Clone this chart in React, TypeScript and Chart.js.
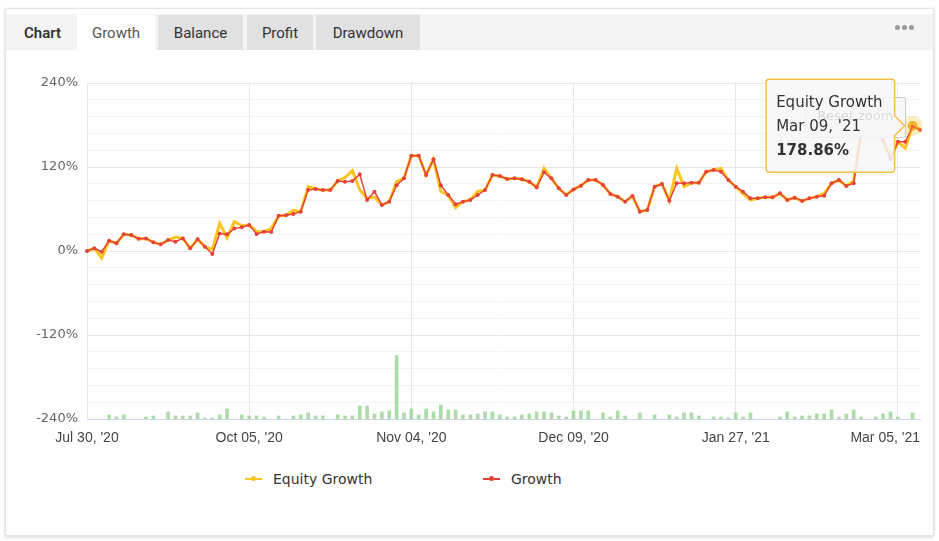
import React, { useEffect, useRef } from "react";
import { Chart, registerables } from "chart.js";

Chart.register(...registerables);

// ---------- data ----------
const growth: number[] = [
  0, 3.8, -1, 14.7, 11, 23.8, 22.9, 17.6, 18, 12.4,
  9.5, 15.7, 13.3, 18, 3.8, 16.7, 6.2, -4.3, 25, 23.8,
  32, 33.8, 37, 24.3, 27.6, 27.1, 50.5, 51, 53, 56.2,
  87, 88.6, 87, 87, 100, 99, 100, 109.5, 72.9, 84.8,
  65.7, 70.5, 94, 103.8, 136, 136, 108.6, 131, 94, 80,
  66.7, 70.5, 72.9, 80, 87, 108.6, 107, 103, 104, 102.4,
  99, 91, 112.4, 103.8, 89.5, 80, 88, 93.3, 101.4, 101.4,
  94.3, 81.4, 77.6, 70.5, 78.6, 56.2, 58.6, 91.9, 95.7, 71.9,
  96.7, 96.7, 97.6, 97.6, 113.3, 115.7, 113.3, 101.4, 91.9, 84.8,
  75.2, 75.2, 76.7, 76.7, 82.4, 72.9, 76.2, 71.4, 75.2, 77.6,
  79, 96.7, 101.4, 92.9, 96.7, 168, 182, 176, 158, 131,
  156, 156, 178, 173,
];

const equity: number[] = [
  0, 3.8, -10, 14.7, 11, 23.8, 22.9, 17.6, 18, 12.4,
  9.5, 15.7, 20, 18, 3.8, 16.7, 6.2, 2, 39.5, 19,
  42, 36, 37, 28, 27.6, 32, 50.5, 51, 58, 56.2,
  92, 88.6, 87, 87, 100, 105, 114.7, 87.6, 75, 77,
  65.7, 70.5, 99, 103.8, 136, 136, 108.6, 131, 85, 80,
  62, 70.5, 72.9, 85, 87, 108.6, 107, 103, 104, 102.4,
  99, 91, 118, 103.8, 89.5, 80, 88, 93.3, 101.4, 101.4,
  94.3, 81.4, 77.6, 70.5, 78.6, 56.2, 58.6, 91.9, 95.7, 71.9,
  118, 92, 97.6, 97.6, 113.3, 115.7, 118, 101.4, 91.9, 82,
  73, 75.2, 76.7, 76.7, 82.4, 72.9, 76.2, 71.4, 75.2, 77.6,
  82.4, 96.7, 101.4, 92.9, 100, 170, 184, 177, 159, 132,
  156, 147, 178.86, 174,
];

const volume: (number | null)[] = [
  null, null, null, 1.2, 0.6, 1.2, null, null, 0.6, 0.9,
  null, 2.1, 0.9, 0.9, 0.9, 1.8, 0.3, 0.3, 1.2, 3,
  null, 1.2, 0.9, 0.9, 0.6, null, 0.9, null, 0.9, 1.2,
  1.8, 0.9, 0.9, null, 1.2, 0.9, 0.9, 3.9, 3.9, 1.5,
  2.1, 2.4, 18.9, 1.8, 3, 1.2, 3, 2.1, 4.2, 2.7,
  2.7, 1.2, 1.2, 1.5, 2.1, 2.1, 1.2, 0.6, 0.6, 1.2,
  1.5, 2.1, 2.1, 1.8, 0.9, 0.6, 2.4, 2.4, 2.4, null,
  1.8, 0.6, 2.4, 0.9, null, 1.8, null, 1.2, null, 1.2,
  0.6, 1.8, 1.8, 0.9, null, 0.6, 0.6, 0.3, 1.8, 0.6,
  1.8, null, null, null, 0.6, 2.1, 0.6, 0.9, 0.9, 1.5,
  1.5, 2.7, 0.6, 1.5, 2.7, 0.6, null, 0.6, 1.5, 2.1,
  0.6, null, 1.8, null,
];

const tickIndex: number[] = [0, 22, 44, 66, 88, 110];
const tickLabels: string[] = ["Jul 30, '20", "Oct 05, '20", "Nov 04, '20", "Dec 09, '20", "Jan 27, '21", "Mar 05, '21"];
const hoverIndex = 112;
const hoverDate = "Mar 09, '21";

const seriesNames: string[] = ["Equity Growth", "Growth"];
const tabNames: string[] = ["Chart", "Growth", "Balance", "Profit", "Drawdown"];

const Y_MIN = -240;
const Y_MAX = 240;
const Y_STEP = 24;
const Y_LABEL_STEP = 120;

const YELLOW = "#fcc420";
const RED = "#e5433a";
const GREEN = "rgba(140, 208, 135, 0.72)";
const HC_FONT = '"DejaVu Sans", Verdana, sans-serif';

const categories: string[] = growth.map((_, i) => {
  const k = tickIndex.indexOf(i);
  if (k >= 0) return tickLabels[k];
  if (i === hoverIndex) return hoverDate;
  return "";
});

const overlayPlugin = {
  id: "overlay",
  beforeDraw(chart: any) {
    // keep x labels inside the plot's right edge (justify overflowing labels)
    const s = chart.scales.x;
    if (!s || !s.getLabelItems) return;
    const ctx = chart.ctx as CanvasRenderingContext2D;
    const items = s.getLabelItems();
    const right = chart.chartArea.right;
    ctx.save();
    for (const it of items) {
      if (!it.label) continue;
      ctx.font = it.font.string;
      const w = ctx.measureText(String(it.label)).width;
      const x = it.options.translation[0];
      if (x + w / 2 > right) {
        it.options.translation = [right, it.options.translation[1]];
        it.options.textAlign = "right";
      }
    }
    ctx.restore();
  },
  afterDatasetsDraw(chart: any) {
    const ctx = chart.ctx as CanvasRenderingContext2D;
    const pt = chart.getDatasetMeta(0).data[hoverIndex];
    ctx.save();
    if (pt) {
      ctx.fillStyle = "rgba(252, 196, 32, 0.3)";
      ctx.beginPath();
      ctx.arc(pt.x, pt.y, 10, 0, Math.PI * 2);
      ctx.fill();
    }
    const a = chart.chartArea;
    const w = 100;
    const h = 40;
    const x = Math.round(a.right - 15 - w) + 0.5;
    const y = Math.round(a.top + 14) + 0.5;
    ctx.beginPath();
    if ((ctx as any).roundRect) (ctx as any).roundRect(x, y, w, h, 2);
    else ctx.rect(x, y, w, h);
    ctx.fillStyle = "#f7f7f7";
    ctx.fill();
    ctx.strokeStyle = "#cccccc";
    ctx.lineWidth = 1;
    ctx.stroke();
    ctx.fillStyle = "#333333";
    ctx.font = `13px ${HC_FONT}`;
    ctx.textAlign = "center";
    ctx.textBaseline = "middle";
    ctx.fillText("Reset zoom", x + w / 2, y + h / 2 - 1);
    ctx.restore();
  },
};

function LegendItem({ color, label, left }: { color: string; label: string; left: number }) {
  return (
    <div style={{ position: "absolute", left, top: 470, height: 18, display: "flex", alignItems: "center" }}>
      <div style={{ position: "relative", width: 17, height: 2, background: color }}>
        <div
          style={{
            position: "absolute",
            left: 6,
            top: -2,
            width: 5,
            height: 5,
            borderRadius: "50%",
            background: color,
          }}
        />
      </div>
      <span
        style={{
          marginLeft: 11,
          fontFamily: HC_FONT,
          fontSize: 14,
          color: "#333",
          lineHeight: "18px",
          whiteSpace: "nowrap",
        }}
      >
        {label}
      </span>
    </div>
  );
}

export default function App() {
  const ref = useRef<HTMLCanvasElement | null>(null);

  useEffect(() => {
    let chart: Chart | null = null;
    let cancelled = false;

    const build = () => {
      if (cancelled || !ref.current) return;
      const tickFontY = { family: HC_FONT, size: 13 };
      const tickFontX = { family: '"Liberation Sans", Arial, sans-serif', size: 14 };
      chart = new Chart(ref.current, {
        type: "line",
        data: {
          labels: categories,
          datasets: [
            {
              label: seriesNames[0],
              data: equity,
              borderColor: YELLOW,
              backgroundColor: YELLOW,
              borderWidth: 3,
              pointRadius: 0,
              pointHoverRadius: 4,
              pointHoverBackgroundColor: YELLOW,
              pointHoverBorderColor: "#e49b2c",
              pointHoverBorderWidth: 1.5,
              tension: 0,
              order: 1,
              yAxisID: "y",
            },
            {
              label: seriesNames[1],
              data: growth,
              borderColor: RED,
              backgroundColor: RED,
              borderWidth: 1.5,
              pointRadius: 2,
              pointBackgroundColor: RED,
              pointBorderWidth: 0,
              pointHoverRadius: 2,
              tension: 0,
              order: 0,
              yAxisID: "y",
            },
            {
              type: "bar",
              label: "Volume",
              data: volume,
              backgroundColor: GREEN,
              borderWidth: 0,
              barThickness: 3,
              order: 2,
              yAxisID: "y1",
            } as any,
          ],
        },
        options: {
          responsive: false,
          animation: false,
          events: [],
          layout: { padding: { left: 0, right: 19, top: 32, bottom: 0 } },
          scales: {
            x: {
              type: "category",
              offset: false,
              grid: {
                offset: false,
                drawTicks: false,
                lineWidth: 1,
                color: (c: any) => (tickIndex.includes(c.index) ? "#e6e6e6" : "rgba(0,0,0,0)"),
              },
              border: { display: true, color: "#ccd6eb", width: 1 },
              ticks: {
                autoSkip: false,
                maxRotation: 0,
                minRotation: 0,
                padding: 11,
                color: "#444444",
                font: tickFontX,
                callback: (_v: any, i: number) => {
                  const k = tickIndex.indexOf(i);
                  return k >= 0 ? tickLabels[k] : "";
                },
              },
              afterFit: (s: any) => {
                s.height = 41;
              },
            } as any,
            y: {
              min: Y_MIN,
              max: Y_MAX,
              ticks: {
                stepSize: Y_STEP,
                autoSkip: false,
                padding: 9,
                color: "#666666",
                font: tickFontY,
                callback: (v: any) => {
                  const n = Math.round(Number(v));
                  return n % Y_LABEL_STEP === 0 ? `${n}%` : "";
                },
              },
              grid: {
                drawTicks: false,
                lineWidth: 1,
                color: (c: any) =>
                  Math.round(c.tick?.value ?? 0) % Y_LABEL_STEP === 0 ? "#e6e6e6" : "#f3f3f3",
              },
              border: { display: false },
              afterFit: (s: any) => {
                s.width = 87;
              },
            } as any,
            y1: {
              display: false,
              min: 0,
              max: 100,
            },
          },
          plugins: {
            legend: { display: false },
            tooltip: {
              enabled: true,
              backgroundColor: "rgba(247, 247, 247, 0.85)",
              borderColor: "#f3c042",
              borderWidth: 1.5,
              cornerRadius: 3,
              caretSize: 10,
              caretPadding: 8,
              xAlign: "right",
              yAlign: "center",
              displayColors: false,
              padding: { top: 12, bottom: 9, left: 10, right: 12 } as any,
              titleColor: "#333333",
              bodyColor: "#333333",
              titleFont: { family: HC_FONT, size: 15, weight: "normal", lineHeight: "24px" } as any,
              bodyFont: { family: HC_FONT, size: 15, weight: "bold", lineHeight: "24px" } as any,
              titleSpacing: 0,
              titleMarginBottom: 0,
              bodySpacing: 0,
              callbacks: {
                title: (items: any[]) =>
                  items.length ? [items[0].dataset.label, categories[items[0].dataIndex]] : [],
                label: (item: any) => `${Number(item.parsed.y).toFixed(2)}%`,
              },
            },
          },
        },
        plugins: [overlayPlugin],
      } as any);

      const active = [{ datasetIndex: 0, index: hoverIndex }];
      const el: any = chart.getDatasetMeta(0).data[hoverIndex];
      chart.setActiveElements(active);
      chart.tooltip?.setActiveElements(active, { x: el?.x ?? 0, y: el?.y ?? 0 });
      chart.update();
    };

    const fontLoads = [
      '13px "DejaVu Sans"',
      'bold 15px "DejaVu Sans"',
      '14px "Liberation Sans"',
      '15px Roboto',
    ].map((f) => (document as any).fonts?.load?.(f) ?? Promise.resolve());
    Promise.all(fontLoads).then(build, build);

    return () => {
      cancelled = true;
      if (chart) chart.destroy();
    };
  }, []);

  const tabs = [
    { left: 8, width: 69, bg: "#f4f4f4", color: "#333", weight: 600 },
    { left: 77, width: 78, bg: "#ffffff", color: "#555", weight: 400 },
    { left: 158, width: 85, bg: "#e1e1e1", color: "#333", weight: 400 },
    { left: 247, width: 66, bg: "#e1e1e1", color: "#333", weight: 400 },
    { left: 316, width: 104, bg: "#e1e1e1", color: "#333", weight: 400 },
  ];

  return (
    <div
      style={{
        position: "absolute",
        left: 0,
        top: 0,
        width: 939,
        height: 541,
        background: "#ffffff",
        overflow: "hidden",
      }}
    >
      {/* panel */}
      <div
        style={{
          position: "absolute",
          left: 5,
          top: 8,
          width: 927,
          height: 526,
          border: "1px solid #e4e4e4",
          boxShadow: "0 1px 3px rgba(0,0,0,0.18)",
          background: "#ffffff",
        }}
      />
      {/* tab bar */}
      <div
        style={{
          position: "absolute",
          left: 6,
          top: 14,
          width: 927,
          height: 36,
          background: "#f4f4f4",
        }}
      />
      {tabNames.map((t, i) => (
        <div
          key={t}
          style={{
            position: "absolute",
            left: tabs[i].left,
            top: 15,
            width: tabs[i].width,
            height: 35,
            background: tabs[i].bg,
            color: tabs[i].color,
            fontFamily: "Roboto, sans-serif",
            fontSize: 15,
            fontWeight: tabs[i].weight,
            display: "flex",
            alignItems: "center",
            justifyContent: "center",
          }}
        >
          {t}
        </div>
      ))}
      {/* menu dots */}
      <div style={{ position: "absolute", left: 895, top: 25, display: "flex", gap: 2 }}>
        {[0, 1, 2].map((d) => (
          <div key={d} style={{ width: 5, height: 5, borderRadius: "50%", background: "#9a9a9a" }} />
        ))}
      </div>
      {/* chart */}
      <canvas
        ref={ref}
        width={939}
        height={409}
        style={{ position: "absolute", left: 0, top: 51, width: 939, height: 409 }}
      />
      {/* legend */}
      <LegendItem color={YELLOW} label={seriesNames[0]} left={245} />
      <LegendItem color={RED} label={seriesNames[1]} left={483} />
    </div>
  );
}
